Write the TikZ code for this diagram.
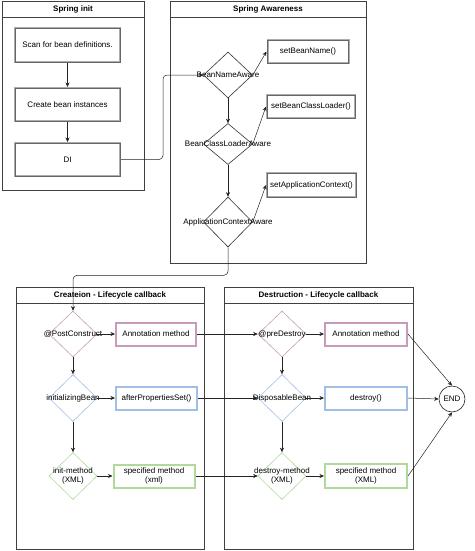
\documentclass[tikz,border=0pt]{standalone}
\usepackage{fontspec}
\setmainfont{Liberation Sans}
\usetikzlibrary{shapes.geometric,arrows.meta}
\definecolor{pinkc}{RGB}{200,155,188}
\definecolor{bluec}{RGB}{160,190,230}
\definecolor{greenc}{RGB}{175,218,155}
\definecolor{linec}{RGB}{35,35,35}
\begin{document}
\begin{tikzpicture}[x=1pt,y=-1pt,
  font=\fontsize{8}{9.5}\selectfont,
  container/.style={draw=black!75, line width=0.8pt},
  title/.style={font=\fontsize{8}{9.5}\selectfont\bfseries, inner sep=0pt},
  sbox/.style={draw=gray!65, line width=2pt, inner sep=0pt, align=center,
    postaction={draw=black!60, line width=0.5pt}},
  cbox/.style={draw=#1, line width=2pt, inner sep=0pt, align=center},
  dia/.style={diamond, draw=#1, line width=0.6pt, inner sep=0pt},
  every label/.style={inner sep=0pt, align=center, font=\fontsize{8}{9.5}\selectfont},
  arr/.style={draw=linec, line width=0.5pt, -{Stealth[length=4.5pt,width=4pt]}},
  endc/.style={circle, draw=linec, line width=0.6pt, minimum size=26pt, inner sep=0pt}
]
\useasboundingbox (0,0) rectangle (474,551);

% containers
\draw[container] (2,1) rectangle (144,190);
\draw[container] (2,17) -- (144,17);
\node[title] (tinit) at (73,9) {Spring init};

\draw[container] (170,1) rectangle (366,263);
\draw[container] (170,17) -- (366,17);
\node[title] (taware) at (268,9) {Spring Awareness};

\draw[container] (16,287) rectangle (204,549);
\draw[container] (16,303) -- (204,303);
\node[title] (tcreate) at (110,295) {Createion - Lifecycle callback};

\draw[container] (224,287) rectangle (413,549);
\draw[container] (224,303) -- (413,303);
\node[title] (tdestroy) at (318.5,295) {Destruction - Lifecycle callback};

% spring init
\node[sbox, minimum width=105pt, minimum height=34pt] (scan) at (67.5,45) {Scan for bean definitions.};
\node[sbox, minimum width=105pt, minimum height=33pt] (create) at (67.5,104.5) {Create bean instances};
\node[sbox, minimum width=105pt, minimum height=33pt] (di) at (67.5,159.5) {DI};

% spring awareness
\node[dia=black!80, minimum width=49pt, minimum height=46pt, label=center:BeanNameAware] (bna) at (228,75) {};
\node[dia=black!80, minimum width=49pt, minimum height=41pt, label=center:BeanClassLoaderAware] (bcla) at (228,144) {};
\node[dia=black!80, minimum width=49pt, minimum height=50pt, label=center:ApplicationContextAware] (aca) at (228,222) {};

\node[sbox, minimum width=81pt, minimum height=23pt] (sbn) at (308,51.5) {setBeanName()};
\node[sbox, minimum width=88pt, minimum height=23pt] (sbcl) at (311,106.5) {setBeanClassLoader()};
\node[sbox, minimum width=89pt, minimum height=24pt] (sac) at (311.5,185) {setApplicationContext()};

% creation
\node[dia=pinkc, minimum width=48pt, minimum height=46pt, label=center:@PostConstruct] (pc) at (73,334) {};
\node[dia=bluec, minimum width=48pt, minimum height=47pt, label=center:initializingBean] (ib) at (73,398) {};
\node[dia=greenc, minimum width=48pt, minimum height=47pt, label={center:init-method\\(XML)}] (im) at (73,476) {};

\node[cbox=pinkc, minimum width=80pt, minimum height=23pt] (ann1) at (156,334) {Annotation method};
\node[cbox=bluec, minimum width=81pt, minimum height=23pt] (aps) at (156.5,398) {afterPropertiesSet()};
\node[cbox=greenc, minimum width=81pt, minimum height=23pt] (spec1) at (154,476) {specified method\\(xml)};

% destruction
\node[dia=pinkc, minimum width=48pt, minimum height=46pt, label=center:@preDestroy] (pd) at (282,334) {};
\node[dia=bluec, minimum width=48pt, minimum height=47pt, label=center:DisposableBean] (db) at (282,398) {};
\node[dia=greenc, minimum width=48pt, minimum height=47pt, label={center:destroy-method\\(XML)}] (dm) at (282,476) {};

\node[cbox=pinkc, minimum width=82pt, minimum height=23pt] (ann2) at (366,334) {Annotation method};
\node[cbox=bluec, minimum width=82pt, minimum height=23pt] (dst) at (366,398) {destroy()};
\node[cbox=greenc, minimum width=82pt, minimum height=24pt] (spec2) at (366,476) {specified method\\(XML)};

\node[endc] (endn) at (452,399) {END};

% connectors
\draw[arr] (scan) -- (create);
\draw[arr] (create) -- (di);
\draw[arr, rounded corners=4pt] (di.east) -- ++(42,0) |- (bna.west);
\draw[arr] (bna) -- (bcla);
\draw[arr] (bcla) -- (aca);
\draw[arr] (bna.east) -- (sbn.west);
\draw[arr] (bcla.east) -- (sbcl.west);
\draw[arr] (aca.east) -- (sac.west);
\draw[arr, rounded corners=4pt] (aca.south) -- ++(0,28) -| (pc.north);

\draw[arr] (pc) -- (ib);
\draw[arr] (ib) -- (im);
\draw[arr] (pc.east) -- (ann1.west);
\draw[arr] (ib.east) -- (aps.west);
\draw[arr] (im.east) -- (spec1.west);

\draw[arr] (ann1.east) -- (pd.west);
\draw[arr] (aps.east) -- (db.west);
\draw[arr] (spec1.east) -- (dm.west);

\draw[arr] (pd) -- (db);
\draw[arr] (db) -- (dm);
\draw[arr] (pd.east) -- (ann2.west);
\draw[arr] (db.east) -- (dst.west);
\draw[arr] (dm.east) -- (spec2.west);

\draw[arr] (ann2.east) -- (endn.north);
\draw[arr] (dst.east) -- (endn.west);
\draw[arr] (spec2.east) -- (endn.south);
\end{tikzpicture}
\end{document}
